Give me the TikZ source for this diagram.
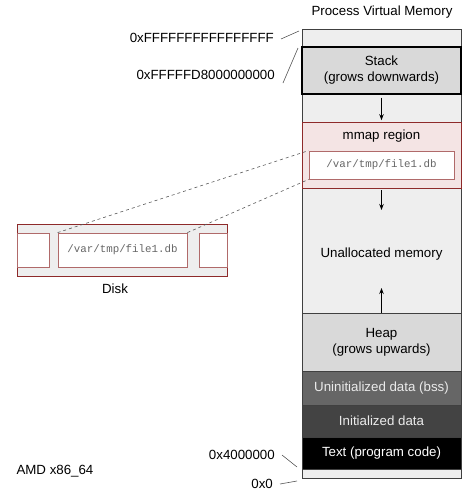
\documentclass[tikz,border=0pt]{standalone}
\usepackage{fontspec}
\setmainfont{Liberation Sans}
\setmonofont{Liberation Mono}
\usetikzlibrary{arrows.meta}
\definecolor{memgray}{HTML}{EEEEEE}
\definecolor{seggray}{HTML}{D9D9D9}
\definecolor{bssgray}{HTML}{666666}
\definecolor{initgray}{HTML}{434343}
\definecolor{mmappink}{HTML}{F4E4E4}
\definecolor{darkred}{HTML}{8E2A2A}
\definecolor{softred}{HTML}{B06A6A}
\begin{document}
\begin{tikzpicture}[x=1pt,y=-1pt,
  seg/.style={draw=black!75,line width=0.8pt,minimum width=159pt,inner sep=0pt,align=center,font=\fontsize{13.3}{16}\selectfont},
  filebox/.style={draw=softred,fill=white,line width=0.8pt,inner sep=0pt,font=\ttfamily\fontsize{10.8}{12}\selectfont,text=black!60},
  txt/.style={font=\fontsize{13.3}{16}\selectfont},
  addr/.style={anchor=east,inner sep=1pt,font=\fontsize{13.3}{16}\selectfont},
  tick/.style={draw=black!65,line width=0.6pt},
  growarrow/.style={-{Stealth[length=6pt,width=4.5pt]},line width=0.9pt},
  ]
\useasboundingbox (0,0) rectangle (474,496);
% memory column
\node[txt] (title) at (382,12) {Process Virtual Memory};
\node[seg,fill=memgray,minimum height=449pt] (mem) at (381.5,253.5) {};
\node[seg,fill=seggray,draw=black,line width=1.2pt,minimum height=47pt] (stack) at (381.5,70.5) {Stack\\(grows downwards)};
\node[seg,fill=mmappink,draw=darkred,line width=1pt,minimum height=66pt] (mmap) at (381.5,155.7) {};
\node[txt] (mmaplabel) at (381.5,136) {mmap region};
\node[filebox,minimum width=145pt,minimum height=28pt] (mfile) at (381.5,165) {/var/tmp/file1.db};
\node[txt] (unalloc) at (381.5,254) {Unallocated memory};
\node[seg,fill=seggray,minimum height=58pt] (heap) at (381.5,342) {Heap\\(grows upwards)};
\node[seg,fill=bssgray,text=white!92!black,minimum height=34pt] (bss) at (381.5,388) {Uninitialized data (bss)};
\node[seg,fill=initgray,text=white!92!black,minimum height=32pt] (init) at (381.5,421) {Initialized data};
\node[seg,fill=black,text=white,minimum height=32pt] (text) at (381.5,453) {Text (program code)};
\coordinate (down) at (381.5,210);
\coordinate (up) at (381.5,288);
\draw[growarrow,shorten <=3pt,shorten >=2pt] (stack) -- (mmap);
\draw[growarrow,shorten <=1pt] (mmap) -- (down);
\draw[growarrow] (heap) -- (up);
% disk
\node[draw=darkred,fill=memgray,line width=1pt,minimum width=210pt,minimum height=52pt,inner sep=0pt] (disk) at (122,250) {};
\node[filebox,minimum width=32pt,minimum height=34pt] (dleft) at (33,250) {};
\node[filebox,minimum width=129pt,minimum height=34pt] (dfile) at (122.5,250) {/var/tmp/file1.db};
\node[filebox,minimum width=28pt,minimum height=34pt] (dright) at (213,250) {};
\node[txt] (disklabel) at (115,289) {Disk};
\draw[dashed,black!65,line width=0.6pt] (dfile.north west) -- (mfile.north west);
\draw[dashed,black!65,line width=0.6pt] (dfile.north east) -- (mfile.south west);
% addresses
\node[addr] (atop) at (275,38) {0xFFFFFFFFFFFFFFFF};
\node[addr] (astack) at (276,75) {0xFFFFFD8000000000};
\node[addr] (atext) at (276,455) {0x4000000};
\node[addr] (azero) at (274,484) {0x0};
\node[txt,anchor=west] (arch) at (13,471) {AMD x86\_64};
\coordinate (ctop) at (299,31);
\coordinate (cstack) at (298,48);
\coordinate (ctext) at (297,467);
\coordinate (czero) at (297,481);
\draw[tick] ([xshift=6pt,yshift=-1pt]atop.east) -- (ctop);
\draw[tick] ([xshift=7pt,yshift=-8pt]astack.east) -- (cstack);
\draw[tick] ([xshift=6pt]atext.east) -- (ctext);
\draw[tick] ([xshift=6pt]azero.east) -- (czero);
\end{tikzpicture}
\end{document}
